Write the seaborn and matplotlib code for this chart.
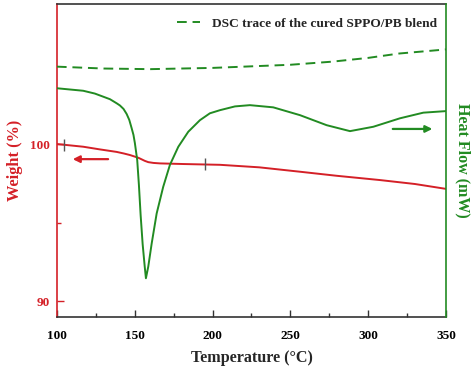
import numpy as np
import pandas as pd
import matplotlib
matplotlib.use("Agg")
import matplotlib.pyplot as plt
import seaborn as sns

# ----- data -----
# TGA weight (%) vs temperature
tga_temp = [100, 108, 116.9, 127.6, 138.4, 143, 147, 150.1, 152.5, 154.4, 156.5, 158.7,
            162, 166.2, 181.2, 204.8, 230, 256.2, 280, 307.6, 330, 350]
tga_weight = [100.0, 99.92, 99.83, 99.66, 99.5, 99.4, 99.3, 99.2, 99.12, 99.03, 98.93, 98.85,
              98.8, 98.77, 98.73, 98.68, 98.52, 98.24, 97.98, 97.71, 97.46, 97.15]

# DSC heat flow (mW, arbitrary offset) of the SPPO/PB blend
dsc_temp = [100, 108.4, 116.9, 124.4, 129.8, 134.1, 138.4, 140.5, 142.8, 144.8, 146.5,
            148.0, 149.2, 150.1, 151.6, 152.7, 153.8, 155.1, 156.4, 157.2, 158.7,
            160.9, 164.1, 168.3, 172.6, 178.0, 184.4, 191.9, 198.3, 204.8, 214.4,
            224.0, 239.0, 256.2, 273.3, 288.3, 303.3, 320.4, 335.4, 350]
dsc_flow = [7.31, 7.27, 7.23, 7.14, 7.04, 6.96, 6.83, 6.76, 6.65, 6.49, 6.30,
            6.04, 5.82, 5.56, 5.02, 4.22, 3.26, 2.33, 1.63, 1.24, 1.61,
            2.35, 3.31, 4.16, 4.86, 5.44, 5.92, 6.29, 6.51, 6.61, 6.73,
            6.77, 6.70, 6.45, 6.13, 5.94, 6.08, 6.35, 6.53, 6.58]

# DSC trace of the cured blend
cured_temp = [100, 130, 160, 200, 250, 277, 300, 320, 350]
cured_flow = [8.00, 7.94, 7.92, 7.96, 8.06, 8.16, 8.28, 8.42, 8.55]

# onset marks on the TGA curve
mark_temp = [104.5, 195.3]
mark_weight = [99.92, 98.72]

red = "#d42027"
green = "#228b22"

sns.set_style("ticks")
plt.rcParams["font.family"] = ["Liberation Serif", "DejaVu Serif"]
plt.rcParams["font.weight"] = "bold"

fig = plt.figure(figsize=(4.74, 3.67), dpi=100)
ax = fig.add_axes([0.120, 0.136, 0.821, 0.853])
ax2 = ax.twinx()

tga = pd.DataFrame({"T": tga_temp, "W": tga_weight})
dsc = pd.DataFrame({"T": dsc_temp, "H": dsc_flow})
cured = pd.DataFrame({"T": cured_temp, "H": cured_flow})

sns.lineplot(data=tga, x="T", y="W", ax=ax, color=red, lw=1.4)
ax.plot(mark_temp, mark_weight, ls="none", marker="|", ms=9, mew=1.0, color="#555555")

sns.lineplot(data=dsc, x="T", y="H", ax=ax2, color=green, lw=1.4)
sns.lineplot(data=cured, x="T", y="H", ax=ax2, color=green, lw=1.4,
             linestyle=(0, (5, 3)), label="DSC trace of the cured SPPO/PB blend")

# arrows showing which axis each curve belongs to
ax.annotate("", xy=(108.4, 99.04), xytext=(134.7, 99.04),
            arrowprops=dict(arrowstyle="-|>", color=red, lw=1.6, mutation_scale=10))
ax2.annotate("", xy=(343, 6.01), xytext=(314, 6.01),
             arrowprops=dict(arrowstyle="-|>", color=green, lw=1.6, mutation_scale=10))

ax.set_xlim(100, 350)
ax.set_ylim(89, 108.9)
ax2.set_ylim(0, 10)

ax.set_xticks([100, 150, 200, 250, 300, 350])
ax.set_xticks([125, 175, 225, 275, 325], minor=True)
ax.set_yticks([90, 100])
ax.set_yticks([95], minor=True)
ax2.set_yticks([])

ax.tick_params(axis="x", which="major", direction="in", length=5, width=1,
               color="#333333", pad=9, labelsize=9.5, labelcolor="black")
ax.tick_params(axis="x", which="minor", direction="in", length=3, width=1, color="#333333")
ax.tick_params(axis="y", which="major", direction="in", length=5, width=1,
               color=red, pad=5, labelsize=9.5, labelcolor=red)
ax.tick_params(axis="y", which="minor", direction="in", length=3, width=1, color=red)

for s in ["top", "bottom"]:
    ax.spines[s].set_color("#333333")
    ax2.spines[s].set_visible(False)
ax.spines["top"].set_visible(True)
ax.spines["right"].set_visible(False)
ax2.spines["left"].set_visible(False)
ax.spines["left"].set_color(red)
ax2.spines["right"].set_color(green)
for s in ax.spines.values():
    s.set_linewidth(1.2)
ax2.spines["right"].set_linewidth(1.2)

ax.set_xlabel("Temperature (\u00b0C)", fontsize=11.6, fontweight="bold", labelpad=6)
ax.set_ylabel("Weight (%)", fontsize=11.8, fontweight="bold", color=red, labelpad=5)
ax2.set_ylabel("Heat Flow (mW)", fontsize=11.5, fontweight="bold", color=green,
               rotation=270, labelpad=18)

leg = ax2.legend(loc="upper right", bbox_to_anchor=(1.0, 0.985), frameon=False,
                 fontsize=9.6, handlelength=1.75, handletextpad=0.9, borderaxespad=0.25)
for t in leg.get_texts():
    t.set_fontweight("bold")

fig.savefig("out.png", dpi=100)
